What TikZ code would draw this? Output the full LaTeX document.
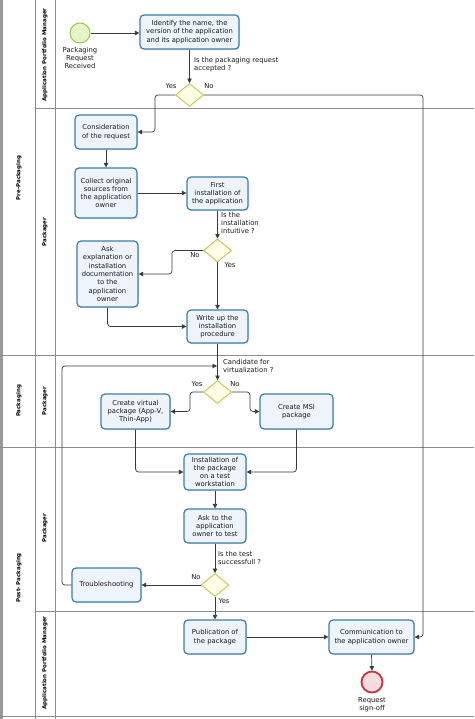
\documentclass[tikz,border=0pt]{standalone}
\usepackage{fontspec}
\setmainfont{DejaVu Sans}
\usetikzlibrary{shapes.geometric,arrows.meta,shadows}
\definecolor{taskblue}{HTML}{3B7EA8}
\definecolor{taskfill}{HTML}{EEF4FB}
\definecolor{gwborder}{HTML}{C2C25A}
\definecolor{gwfill}{HTML}{FFFFE6}
\definecolor{startborder}{HTML}{9CC24E}
\definecolor{startfill}{HTML}{E6F4C8}
\definecolor{endborder}{HTML}{C8323C}
\definecolor{endfill}{HTML}{F9DCDF}
\definecolor{flowcol}{HTML}{3A3A3A}
\definecolor{lanecol}{HTML}{8C8C8C}
\newcommand\bodyfont{\fontsize{6.8}{8.3}\selectfont}
\newcommand\lanefont{\fontsize{5.5}{6}\selectfont\bfseries}
\begin{document}
\begin{tikzpicture}[x=1pt,y=-1pt,
  task/.style={draw=taskblue, line width=1.2pt, fill=taskfill, rounded corners=4pt,
    align=center, inner sep=0pt, font=\bodyfont, text=black!90,
    drop shadow={shadow xshift=1.2pt, shadow yshift=-1.2pt, fill=black!18}},
  gw/.style={diamond, draw=gwborder, fill=gwfill, line width=0.9pt,
    minimum width=28pt, minimum height=23pt, inner sep=0pt},
  flow/.style={draw=flowcol, line width=0.7pt, rounded corners=3pt,
    -{Triangle[length=4.5pt,width=4.5pt]}},
  lbl/.style={font=\bodyfont, text=black!90, inner sep=0pt},
  lane/.style={draw=lanecol, line width=0.8pt},
  lanelabel/.style={font=\lanefont, rotate=90, inner sep=0pt}]
\useasboundingbox (0,0) rectangle (474,719);
\fill[white] (0,0) rectangle (474,719);
% pool / lane frame
\fill[black!40] (0,0) rectangle (3,719);
\draw[lane] (35,0) -- (35,719);
\draw[lane] (55,0) -- (55,719);
\draw[lane] (35,108) -- (474,108);
\draw[lane] (0,355) -- (474,355);
\draw[lane] (0,447) -- (474,447);
\draw[lane] (35,611) -- (474,611);
\draw[lane] (0,716) -- (474,716);
\node[lanelabel] (p1) at (19,178) {Pre-Packaging};
\node[lanelabel] (p2) at (19,401) {Packaging};
\node[lanelabel] (p3) at (19,578) {Post- Packaging};
\node[lanelabel] (l1) at (45,55) {Application Portfolio Manager};
\node[lanelabel] (l2) at (45,232) {Packager};
\node[lanelabel] (l3) at (45,401) {Packager};
\node[lanelabel] (l4) at (45,528) {Packager};
\node[lanelabel] (l5) at (45,663) {Application Portfolio Manager};
% events
\node[circle, draw=startborder, fill=startfill, line width=1pt, minimum size=20pt, inner sep=0pt] (start) at (80,33) {};
\node[lbl, align=center, anchor=north] (startlbl) at (80,47) {Packaging\\Request\\Received};
\node[circle, draw=endborder, fill=endfill, line width=1.8pt, minimum size=21pt, inner sep=0pt] (end) at (372,682) {};
\node[lbl, align=center, anchor=north] (endlbl) at (372,697) {Request\\sign-off};
% tasks
\node[task, minimum width=99pt, minimum height=34pt] (identify) at (189.5,32) {Identify the name, the\\version of the application\\and its application owner};
\node[task, minimum width=62pt, minimum height=34pt] (consider) at (106,132) {Consideration\\of the request};
\node[task, minimum width=62pt, minimum height=50pt] (collect) at (106,193) {Collect original\\sources from\\the application\\owner};
\node[task, minimum width=61pt, minimum height=33pt] (first) at (217.5,193.5) {First\\installation of\\the application};
\node[task, minimum width=61pt, minimum height=66pt] (ask) at (107.5,274) {Ask\\explanation or\\installation\\documentation\\to the\\application\\owner};
\node[task, minimum width=61pt, minimum height=33pt] (write) at (217.5,326.5) {Write up the\\installation\\procedure};
\node[task, minimum width=69pt, minimum height=35pt] (virt) at (135.5,411.5) {Create virtual\\package (App-V,\\Thin-App)};
\node[task, minimum width=73pt, minimum height=35pt] (msi) at (296.5,411.5) {Create MSI\\package};
\node[task, minimum width=62pt, minimum height=36pt] (install) at (215,472) {Installation of\\the package\\on a test\\workstation};
\node[task, minimum width=62pt, minimum height=34pt] (asktest) at (215,526) {Ask to the\\application\\owner to test};
\node[task, minimum width=69pt, minimum height=34pt] (trouble) at (106.5,585) {Troubleshooting};
\node[task, minimum width=62pt, minimum height=34pt] (pub) at (215,637) {Publication of\\the package};
\node[task, minimum width=85pt, minimum height=34pt] (comm) at (371.5,637) {Communication to\\the application owner};
% gateways
\node[gw] (gw1) at (189.5,95) {};
\node[gw] (gw2) at (217.5,250.5) {};
\node[gw] (gw3) at (217.5,392) {};
\node[gw] (gw4) at (215,585) {};
% helper coordinates
\coordinate (c1) at (155,95);
\coordinate (c2) at (423,95);
\coordinate (c3) at (172,250.5);
\coordinate (c4) at (62,366);
\coordinate (join) at (217.5,366);
\coordinate (c5) at (190,392);
\coordinate (c6) at (250,392);
% connectors
\draw[flow] (start) -- (start -| identify.west);
\draw[flow] (identify.south) -- (gw1.north);
\draw[flow] (gw1.west) -- (c1) |- (consider.east);
\draw[flow] (gw1.east) -- (c2) |- (comm.east);
\draw[flow] (consider.south) -- (collect.north);
\draw[flow] (collect.east) -- (collect.east -| first.west);
\draw[flow] (first.south) -- (gw2.north);
\draw[flow] (gw2.west) -- (c3) |- (ask.east);
\draw[flow] (gw2.south) -- (write.north);
\draw[flow] (ask.south) |- (write.west);
\draw[flow] (write.south) -- (gw3.north);
\draw[flow] (trouble.west) -| (c4) -- ([xshift=-0.4pt]join);
\draw[flow] (gw3.west) -- (c5) |- (virt.east);
\draw[flow] (gw3.east) -- (c6) |- (msi.west);
\draw[flow] (virt.south) |- (install.west);
\draw[flow] (msi.south) |- (install.east);
\draw[flow] (install.south) -- (asktest.north);
\draw[flow] (asktest.south) -- (gw4.north);
\draw[flow] (gw4.west) -- (trouble.east);
\draw[flow] (gw4.south) -- (pub.north);
\draw[flow] (pub.east) -- (comm.west);
\draw[flow] (comm.south) -- (end.north);
% connector labels
\node[lbl, align=left, anchor=north west] (q1) at (194,57) {Is the packaging request\\accepted ?};
\node[lbl] (y1) at (171,86.5) {Yes};
\node[lbl] (n1) at (209,86.5) {No};
\node[lbl, align=left, anchor=north west] (q2) at (221,212) {Is the\\installation\\intuitive ?};
\node[lbl] (n2) at (195,255) {No};
\node[lbl] (y2) at (230,265) {Yes};
\node[lbl, align=left, anchor=north west] (q3) at (223,359) {Candidate for\\virtualization ?};
\node[lbl] (y3) at (197,384) {Yes};
\node[lbl] (n3) at (235,384) {No};
\node[lbl, align=left, anchor=north west] (q4) at (218,551) {Is the test\\successfull ?};
\node[lbl] (n4) at (196,577) {No};
\node[lbl] (y4) at (224,601) {Yes};
\end{tikzpicture}
\end{document}
